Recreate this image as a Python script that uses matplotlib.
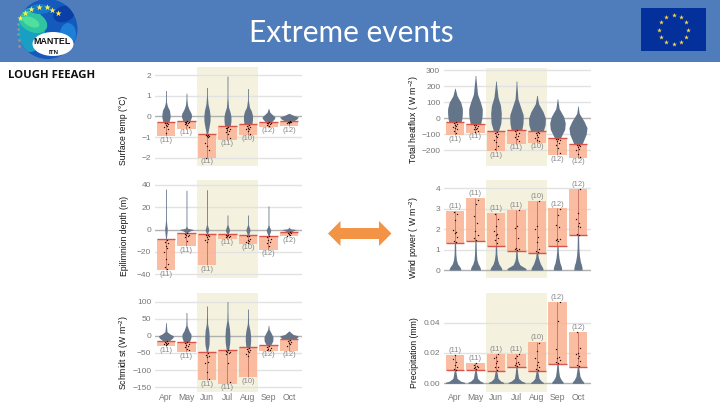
import numpy as np
import matplotlib
matplotlib.use("Agg")
import matplotlib.pyplot as plt
from matplotlib.patches import Circle, Ellipse, Polygon, Rectangle

plt.rcParams['font.family'] = ['Liberation Sans', 'DejaVu Sans']
plt.rcParams['mathtext.default'] = 'regular'

months = ['Apr', 'May', 'Jun', 'Jul', 'Aug', 'Sep', 'Oct']
counts = ['(11)', '(11)', '(11)', '(11)', '(10)', '(12)', '(12)']

# ---- Surface temperature
temp_top = [-0.25, -0.2, -0.87, -0.47, -0.38, -0.27, -0.22]
temp_bottom = [-0.95, -0.6, -2.0, -1.12, -0.88, -0.5, -0.48]
temp_violin_y = [[-.25, -.05, .1, .3, .5, .7, 1.25], [-.2, 0, .15, .35, .55, .8, 1.12], [-.87, -.5, -.2, .05, .3, .6, 1.0, 1.4],
                 [-.47, -.2, 0, .2, .45, .9, 1.95], [-.38, -.15, .05, .25, .45, .8, 1.35], [-.27, -.12, -.03, .08, .2, .38],
                 [-.22, -.12, -.03, .04, .15]]
temp_violin_w = [[.15, .2, .2, .17, .07, .025, .01], [.18, .25, .23, .12, .05, .025, .01], [.03, .1, .15, .15, .12, .05, .02, .01],
                 [.14, .17, .17, .13, .05, .02, .01], [.19, .22, .22, .17, .07, .02, .01], [.14, .28, .32, .2, .07, .01],
                 [.2, .38, .46, .25, .01]]
temp_dots = [[-.3, -.33, -.36, -.4, -.45, -.5, -.8, -.6, -.34], [-.22, -.25, -.28, -.3, -.33, -.36, -.4, -.5, -.27],
             [-.88, -.9, -.93, -.95, -1.0, -1.3, -1.45, -1.6, -2.0], [-.5, -.55, -.6, -.65, -.7, -.75, -.85, -1.05, -.58],
             [-.4, -.45, -.5, -.55, -.6, -.62, -.7, -.85], [-.28, -.3, -.32, -.34, -.36, -.4, -.45],
             [-.24, -.25, -.26, -.27, -.28, -.3, -.32]]

# ---- Epilimnion depth
depth_top = [-8.4, -3, -4, -4, -5, -5.5, -2]
depth_bottom = [-36, -15, -32, -8, -12.5, -18, -6]
depth_violin_y = [[-8.4, -3, 1, 4, 10, 36], [-3, -0.8, 0, 0.8, 4, 35], [-4, -1, 0, 1.5, 5, 35.5], [-4, -1.5, 0, 2, 5, 13],
                  [-5, -1.5, 0, 2, 5, 13], [-5.5, -1.5, 0, 2, 5, 21], [-2, -.7, 0, .7, 2]]
depth_violin_w = [[.015, .05, .065, .04, .012, .006], [.01, .2, .47, .05, .012, .006], [.015, .08, .09, .06, .012, .006],
                  [.02, .09, .1, .06, .012, .006], [.02, .09, .1, .06, .012, .006], [.02, .1, .11, .05, .012, .006],
                  [.1, .25, .37, .06, .01]]
depth_dots = [[-9, -11, -12, -15, -16, -20, -26, -31, -33, -35], [-3.5, -4, -4.5, -5, -6, -7, -10],
              [-4.5, -5, -6, -7, -8, -9, -11], [-4.5, -5, -5.5, -6, -6.5, -7], [-5.5, -6, -8, -9, -10, -11, -12],
              [-6, -7, -8, -9, -11, -12, -15], [-2.5, -3, -3.5, -4, -5, -5.5]]

# ---- Schmidt stability
schmidt_top = [-15, -17, -47, -40, -34, -28, -10]
schmidt_bottom = [-31, -47, -129, -140, -120, -44, -44]
schmidt_violin_y = [[-15, -6, 0, 5, 12, 38], [-17, -5, 5, 15, 30, 68], [-47, -25, -5, 15, 35, 87], [-40, -20, 0, 20, 45, 100],
                    [-34, -15, 0, 15, 35, 78], [-28, -15, -3, 8, 18, 30], [-10, -4, 0, 4, 14]]
schmidt_violin_w = [[.15, .33, .37, .2, .05, .01], [.15, .22, .22, .12, .03, .01], [.03, .1, .11, .09, .03, .01],
                    [.06, .11, .12, .1, .03, .01], [.1, .13, .13, .1, .03, .01], [.1, .21, .22, .13, .04, .01],
                    [.3, .42, .45, .2, .01]]
schmidt_dots = [[-16, -18, -20, -22, -24, -25, -28], [-18, -20, -23, -26, -30, -34, -38, -42],
                [-50, -55, -58, -62, -75, -78, -105, -125], [-42, -44, -46, -48, -50, -52, -80, -135],
                [-36, -38, -40, -44, -48, -52, -58], [-30, -32, -35, -38, -40, -42], [-12, -14, -17, -20, -24, -30]]

# ---- Total heat flux
flux_top = [-23, -37, -81, -73, -83, -125, -162]
flux_bottom = [-106, -92, -206, -160, -154, -231, -248]
flux_violin_y = [[-23, 0, 30, 60, 100, 140, 187], [-37, 0, 30, 60, 100, 150, 267], [-81, -30, 30, 80, 130, 232],
                 [-73, -30, 20, 70, 120, 232], [-83, -40, 0, 40, 90, 142], [-125, -70, -30, 10, 60, 120],
                 [-162, -100, -60, -20, 30, 75]]
flux_violin_w = [[.3, .34, .36, .36, .28, .1, .01], [.25, .31, .33, .33, .24, .1, .01], [.12, .24, .26, .22, .1, .01],
                 [.26, .32, .33, .2, .07, .01], [.3, .4, .41, .3, .08, .01], [.14, .35, .38, .3, .08, .01],
                 [.2, .4, .44, .3, .06, .01]]
flux_dots = [[-25, -30, -35, -40, -48, -55, -62, -70, -80, -95], [-40, -45, -50, -55, -60, -65, -70, -78, -85],
             [-85, -90, -100, -110, -120, -135, -150, -175, -195], [-75, -80, -90, -100, -110, -120, -130, -145],
             [-85, -90, -95, -105, -115, -125, -135, -145], [-128, -132, -138, -145, -155, -170, -185, -215],
             [-165, -170, -175, -180, -190, -200, -225, -240]]

# ---- Wind power
wind_top = [2.9, 3.53, 2.79, 2.96, 3.4, 3.02, 3.98]
wind_bottom = [1.32, 1.4, 1.19, .95, .85, 1.19, 1.7]
wind_violin_y = [[0, .08, .18, .3, .5, .8, 1.32], [0, .08, .18, .3, .5, .8, 1.4], [0, .08, .18, .3, .5, .8, 1.19],
                 [0, .08, .16, .26, .45, .6, .95], [0, .08, .18, .3, .5, .65, .85], [0, .1, .22, .35, .6, .9, 1.19],
                 [0, .1, .25, .4, .7, 1.1, 1.7]]
wind_violin_w = [[.28, .28, .22, .13, .07, .04, .03], [.24, .24, .2, .13, .07, .045, .03], [.28, .28, .22, .14, .08, .04, .03],
                 [.46, .46, .32, .16, .08, .05, .03], [.29, .29, .24, .17, .1, .06, .04], [.2, .2, .17, .12, .07, .04, .03],
                 [.2, .2, .17, .12, .07, .04, .03]]
wind_dots = [[1.38, 1.4, 1.6, 1.8, 1.85, 1.95, 2.45, 2.75, 2.85], [1.45, 1.55, 1.7, 1.9, 2.3, 2.65, 3.25, 3.45],
             [1.3, 1.45, 1.55, 1.72, 1.78, 1.9, 2.15, 2.48, 2.75], [1.0, 1.03, 1.05, 1.07, 1.55, 2.05, 2.18, 2.95],
             [.9, .95, 1.05, 1.35, 1.6, 2.0, 2.15, 3.38], [1.4, 1.45, 1.5, 1.52, 2.1, 2.22, 2.7, 2.98],
             [1.72, 1.75, 2.1, 2.15, 2.3, 2.5, 2.8, 3.95]]

# ---- Precipitation
rain_top = [.0189, .0134, .0193, .0193, .0272, .0538, .034]
rain_bottom = [.0086, .0088, .0081, .011, .0081, .013, .011]
rain_violin_y = [[0, .0007, .0014, .0033, .0066, .0086], [0, .0007, .0014, .0033, .0066, .0088], [0, .0007, .0014, .0033, .0066, .0081],
                 [0, .0007, .0014, .0033, .0066, .011], [0, .0007, .0014, .0033, .0066, .0081], [0, .0009, .002, .0045, .008, .013],
                 [0, .0009, .002, .0045, .008, .011]]
rain_violin_w = [[.47, .47, .28, .1, .06, .03], [.37, .37, .24, .1, .06, .03], [.37, .37, .24, .1, .06, .03],
                 [.41, .41, .26, .1, .06, .03], [.31, .31, .22, .1, .06, .04], [.28, .28, .2, .1, .06, .03], [.28, .28, .2, .1, .06, .03]]
rain_dots = [[.009, .0095, .0105, .012, .014, .016, .0185], [.0095, .01, .0105, .011, .0115, .012, .0132],
             [.009, .0105, .011, .0135, .015, .0165, .0175, .019], [.0115, .012, .013, .0135, .014, .0165, .018, .019],
             [.009, .0095, .0105, .012, .014, .017, .0215, .0268], [.0135, .014, .0155, .017, .0175, .0225, .041, .0535],
             [.0115, .012, .0145, .017, .018, .019, .02, .023, .0335]]

panels = [
    dict(box=(154.7, 67, 302.3, 165.5), ylim=(-2.37, 2.39), ticks=[-2, -1, 0, 1, 2], fmt='{:g}',
         top=temp_top, bottom=temp_bottom, vy=temp_violin_y, vw=temp_violin_w, dots=temp_dots,
         label='Surface temp (°C)', lx=124, ly=130, below=True),
    dict(box=(154.7, 180, 302.3, 278), ylim=(-43.2, 44.2), ticks=[-40, -20, 0, 20, 40], fmt='{:g}',
         top=depth_top, bottom=depth_bottom, vy=depth_violin_y, vw=depth_violin_w, dots=depth_dots,
         label='Epilimnion depth (m)', lx=124.5, ly=236, below=True),
    dict(box=(154.7, 293, 302.3, 392), ylim=(-164, 125), ticks=[-150, -100, -50, 0, 50, 100], fmt='{:g}',
         top=schmidt_top, bottom=schmidt_bottom, vy=schmidt_violin_y, vw=schmidt_violin_w, dots=schmidt_dots,
         label='Schmidt st (W m$^{-2}$)', lx=124.5, ly=353, below=True, xt=True),
    dict(box=(443.7, 68, 591.3, 165.5), ylim=(-296, 314), ticks=[-200, -100, 0, 100, 200, 300], fmt='{:g}',
         top=flux_top, bottom=flux_bottom, vy=flux_violin_y, vw=flux_violin_w, dots=flux_dots,
         label='Total heatflux ( W m$^{-2}$)', lx=414.5, ly=120, below=True),
    dict(box=(443.7, 180, 591.3, 278), ylim=(-0.39, 4.41), ticks=[0, 1, 2, 3, 4], fmt='{:g}',
         top=wind_top, bottom=wind_bottom, vy=wind_violin_y, vw=wind_violin_w, dots=wind_dots,
         label='Wind power ( W m$^{-2}$)', lx=414.5, ly=238, below=False),
    dict(box=(443.7, 293, 591.3, 392), ylim=(-0.0057, 0.0595), ticks=[0, .02, .04], fmt='{:.2f}',
         top=rain_top, bottom=rain_bottom, vy=rain_violin_y, vw=rain_violin_w, dots=rain_dots,
         label='Precipitation (mm)', lx=414.5, ly=353, below=False, xt=True),
]

W, H = 720, 404
fig = plt.figure(figsize=(W / 100, H / 100), dpi=100, facecolor='white')

VIOLIN = '#64758A'
BAR = '#FBB698'
RED = '#D8544A'
GREY = '#777777'
JITTER = [.04, -.05, .1, -.02, .07, -.09, .02, .12, -.04, .05]


def smooth(y, w):
    ys = np.linspace(y[0], y[-1], 240)
    ws = np.interp(ys, y, w)
    k = np.hanning(15)
    k = k / k.sum()
    pad = np.r_[np.full(7, ws[0]), ws, np.full(7, ws[-1])]
    return ys, np.maximum(np.convolve(pad, k, mode='valid'), 0.02)


for p in panels:
    l, t, r, b = p['box']
    ax = fig.add_axes([l / W, 1 - b / H, (r - l) / W, (b - t) / H])
    ax.patch.set_alpha(0)
    ax.set_xlim(-0.55, 6.65)
    ax.set_ylim(*p['ylim'])
    for s in ax.spines.values():
        s.set_visible(False)
    ax.axvspan(1.5, 4.5, color='#F4F1DF', lw=0, zorder=0)
    ax.set_yticks(p['ticks'])
    ax.set_yticklabels([p['fmt'].format(v).replace('-', '\u2212') for v in p['ticks']], fontsize=6, color=GREY)
    ax.tick_params(length=0, pad=2.5)
    for v in p['ticks']:
        ax.axhline(v, color='#B0B0B0' if v == 0 else '#E2E2E2', lw=1.0, zorder=1)
    if p.get('xt'):
        ax.set_xticks(range(7))
        ax.set_xticklabels(months, fontsize=6.2, color=GREY)
        ax.tick_params(axis='x', pad=1)
    else:
        ax.set_xticks([])
    span = p['ylim'][1] - p['ylim'][0]
    for i in range(7):
        ys, ws = smooth(p['vy'][i], p['vw'][i])
        ax.fill_betweenx(ys, i - ws, i + ws, color=VIOLIN, lw=0, zorder=2)
        tp, bt = p['top'][i], p['bottom'][i]
        ax.bar(i, bt - tp, bottom=tp, width=0.92, color=BAR, alpha=0.9, lw=0, zorder=3)
        ref = tp if p['below'] else bt
        ax.hlines(ref, i - .46, i + .46, color=RED, lw=1.0, zorder=4)
        ax.vlines(i, tp, bt, color='#A8483A', lw=0.5, alpha=.8, zorder=4)
        d = p['dots'][i]
        ax.scatter([i + JITTER[j % 10] for j in range(len(d))], d, s=1.0, color='#2A0E0A', lw=0, zorder=5)
        if p['below']:
            ax.text(i, bt - span * .006, counts[i], ha='center', va='top', fontsize=5.5, color='#888888', zorder=6)
        else:
            ax.text(i, tp + span * .006, counts[i], ha='center', va='bottom', fontsize=5.5, color='#888888', zorder=6)
    fig.text(p['lx'] / W, 1 - p['ly'] / H, p['label'], rotation=90, ha='center', va='center',
             fontsize=6.2, color='#111111')

# slide furniture drawn in pixel coordinates
bg = fig.add_axes([0, 0, 1, 1], zorder=10)
bg.set_xlim(0, W)
bg.set_ylim(H, 0)
bg.axis('off')
bg.patch.set_alpha(0)
bg.add_patch(Rectangle((0, 0), W, 62, color='#4F7DBB', lw=0))
bg.text(351, 33, 'Extreme events', color='white', fontsize=21.5, ha='center', va='center', family='Lato')
bg.text(8, 76, 'LOUGH FEEAGH', fontsize=8.2, fontweight='bold', family='Open Sans', color='#111111', va='center')

# logo
disc = Circle((47.5, 29), 30, color='#1459BC', lw=0)
bg.add_patch(disc)
for cx, cy, ww, hh, ang, col in [(30, 30, 30, 44, 0, '#1A9FC4'), (33, 22, 30, 20, 25, '#2FC5A0'), (31, 22, 18, 9, 25, '#4FE0A0'),
                                 (64, 14, 22, 16, -20, '#0A3FA8'), (68, 34, 16, 22, 0, '#1C7FD8'),
                                 (40, 9, 22, 10, 0, '#1578C8')]:
    e = Ellipse((cx, cy), ww, hh, angle=ang, color=col, lw=0)
    bg.add_patch(e)
    e.set_clip_path(disc)
bg.add_patch(Ellipse((53, 44), 41, 24, color='white', lw=0))
bg.text(52.5, 41, 'MANTEL', fontsize=6.4, fontweight='bold', ha='center', va='center', color='#111111')
bg.text(54, 52, 'ITN', fontsize=4.5, fontweight='bold', ha='center', va='center', color='#111111')
star_x = [20, 25, 31, 39, 47, 52, 58]
star_y = [18, 13, 9, 7, 7, 10, 13]
bg.scatter(star_x, star_y, marker='*', s=22, color='#FFF04A', lw=0, zorder=5)
bg.scatter([18, 17.5, 18, 18.5, 19], [24, 29, 34, 40, 46], marker='o', s=4, color='#8C94A0', lw=0, zorder=5)

# EU flag
bg.add_patch(Rectangle((641, 8), 65, 43, color='#03309A', lw=0))
ang = np.deg2rad(np.arange(0, 360, 30))
bg.scatter(673.5 + 14.5 * np.cos(ang), 29.5 + 14.5 * np.sin(ang), marker='*', s=13, color='#F6D84A', lw=0, zorder=5)

# double arrow
bg.add_patch(Polygon([(328, 233.5), (340.5, 221), (340.5, 228), (379, 228), (379, 221), (391.5, 233.5),
                      (379, 246), (379, 239), (340.5, 239), (340.5, 246)], color='#F39345', lw=0))

fig.savefig('out.png', dpi=100)
